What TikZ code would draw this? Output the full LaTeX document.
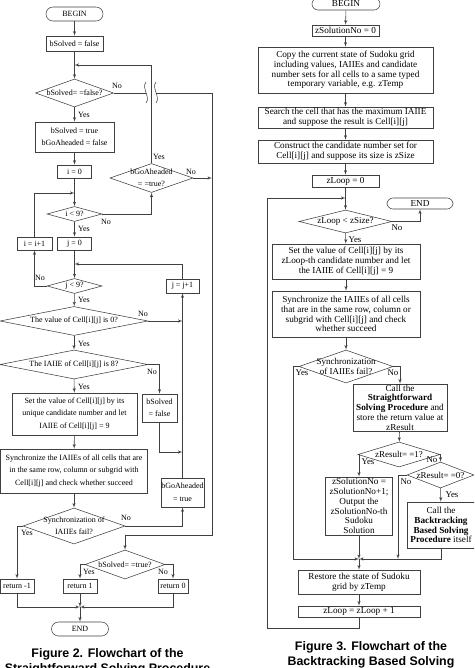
\documentclass[tikz,border=0pt]{standalone}
\usepackage{fontspec}
\setmainfont{Liberation Serif}
\newfontfamily\capfont{Liberation Sans}
\usetikzlibrary{shapes,arrows,positioning,calc,shapes.geometric}

\begin{document}
\begin{tikzpicture}[x=1pt, y=-1pt, >=latex']
    \tikzstyle{proc} = [rectangle, draw=black!75, line width=0.55pt, inner sep=0.5pt, align=center, font=\fontsize{8}{12.5}\selectfont]
    \tikzstyle{procr} = [proc, font=\fontsize{9.2}{9.8}\selectfont]
    \tikzstyle{term} = [proc, rounded corners=7pt]
    \tikzstyle{termr} = [procr, rounded corners=6pt]
    \tikzstyle{dec} = [diamond, draw=black!75, line width=0.55pt, inner sep=0pt]
    \tikzstyle{dtxt} = [inner sep=0pt, align=center, font=\fontsize{8}{12}\selectfont]
    \tikzstyle{dtxtr} = [dtxt, font=\fontsize{9}{9.8}\selectfont]
    \tikzstyle{lbl} = [inner sep=0pt, font=\fontsize{8}{9}\selectfont]
    \tikzstyle{lblr} = [inner sep=0pt, font=\fontsize{8.8}{9}\selectfont]
    \tikzstyle{line} = [draw=black!75, line width=0.55pt]
    \tikzstyle{arrow} = [line, ->]
    \tikzstyle{caption} = [inner sep=0pt, anchor=north, align=center, font=\capfont\bfseries\fontsize{12.4}{15}\selectfont]

    \useasboundingbox (0,0) rectangle (474,668);
    \clip (0,0) rectangle (474,668);

    % left chart
    \node [term, minimum width=57pt, minimum height=14pt] (lbegin) at (74.5,14) {BEGIN};
    \node [proc, minimum width=57pt, minimum height=15pt] (lsf) at (74.5,43.5) {bSolved = false};
    \node [dec, minimum width=78pt, minimum height=28pt, label={[dtxt]center:bSolved= =false?}] (lq1) at (74.5,93) {};
    \node [proc, minimum width=79pt, minimum height=30pt] (lset1) at (74.5,137) {bSolved = true\\bGoAheaded = false};
    \node [proc, minimum width=34pt, minimum height=13pt] (li0) at (74.5,171.5) {i = 0};
    \node [dec, minimum width=83pt, minimum height=29pt, label={[dtxt]center:{bGoAheaded\\= =true?}}] (lq2) at (151.5,178) {};
    \node [dec, minimum width=55pt, minimum height=15pt, label={[dtxt]center:i < 9?}] (lqi) at (74.5,214) {};
    \node [proc, minimum width=34pt, minimum height=13pt] (lj0) at (74.5,243.5) {j = 0};
    \node [proc, minimum width=35pt, minimum height=13pt] (linc) at (34.5,243.5) {i = i+1};
    \node [dec, minimum width=55pt, minimum height=15pt, label={[dtxt]center:j < 9?}] (lqj) at (74.5,286) {};
    \node [proc, minimum width=33pt, minimum height=14pt] (ljinc) at (182.5,286) {j = j+1};
    \node [dec, minimum width=148pt, minimum height=29pt, label={[dtxt]center:The value of Cell[i][j] is 0?}] (lq3) at (74,321) {};
    \node [dec, minimum width=148pt, minimum height=29pt, label={[dtxt]center:The IAIIE of Cell[i][j] is 8?}] (lq4) at (74,364.5) {};
    \node [proc, minimum width=35pt, minimum height=28pt] (lbs) at (159.5,408) {bSolved\\= false};
    \node [proc, minimum width=125pt, minimum height=42pt] (lsetv) at (74.5,414) {Set the value of Cell[i][j] by its\\unique candidate number and let\\IAIIE of Cell[i][j] = 9};
    \node [proc, minimum width=147pt, minimum height=44pt] (lsync) at (74,471) {Synchronize the IAIIEs of all cells that are\\in the same row, column or subgrid with\\Cell[i][j] and check whether succeed};
    \node [proc, minimum width=38pt, minimum height=29pt] (lgat) at (182.5,492.5) {bGoAheaded\\= true};
    \node [dec, minimum width=102pt, minimum height=36pt, label={[dtxt]center:{Synchronization of\\IAIIEs fail?}}] (lq5) at (74,526) {};
    \node [dec, minimum width=80pt, minimum height=29pt, label={[dtxt]center:bSolved= =true?}] (lq6) at (125,564.5) {};
    \node [proc, minimum width=34pt, minimum height=14pt] (lrm1) at (17,586) {return -1};
    \node [proc, minimum width=34pt, minimum height=14pt] (lr1) at (80,586) {return 1};
    \node [proc, minimum width=30pt, minimum height=14pt] (lr0) at (173,586) {return 0};
    \node [term, minimum width=57pt, minimum height=14pt] (lend) at (80,629) {END};

    \coordinate (lm1) at (74.5,65);
    \coordinate (lm2) at (74.5,193);
    \coordinate (lm3) at (74.5,264);
    \coordinate (lm4) at (182.5,452);
    \coordinate (lm5) at (80,607);
    \coordinate (gapl) at (146,93);
    \coordinate (gapr) at (156,93);
    \coordinate (lc1) at (212,93);
    \coordinate (lc2) at (212,535);

    \node [lbl] (ln1) at (117,86) {No};
    \node [lbl] (ly1) at (84,115) {Yes};
    \node [lbl] (ly2) at (159,157) {Yes};
    \node [lbl] (ln2) at (191,172) {No};
    \node [lbl] (ln3) at (106,222) {No};
    \node [lbl] (ly3) at (84,229) {Yes};
    \node [lbl] (ln4) at (40,278) {No};
    \node [lbl] (ly4) at (84,300) {Yes};
    \node [lbl] (ln5) at (143,314) {No};
    \node [lbl] (ly5) at (84,344) {Yes};
    \node [lbl] (ln6) at (152,372) {No};
    \node [lbl] (ly6) at (84,387) {Yes};
    \node [lbl] (ln7) at (126,518) {No};
    \node [lbl] (ly7) at (27,533) {Yes};
    \node [lbl] (ly8) at (89,572) {Yes};
    \node [lbl] (ln8) at (163,572) {No};

    \draw [arrow] (lbegin) -- (lsf);
    \draw [line] (lsf) -- (lm1);
    \draw [arrow] (lm1) -- (lq1);
    \draw [arrow] (lq1) -- (lset1);
    \draw [arrow] (lset1) -- (li0);
    \draw [line] (li0) -- (lm2);
    \draw [arrow] (lm2) -- (lqi);
    \draw [arrow] (lqi) -- (lj0);
    \draw [line] (lj0) -- (lm3);
    \draw [arrow] (lm3) -- (lqj);
    \draw [arrow] (lqj) -- (lq3);
    \draw [arrow] (lq3) -- (lq4);
    \draw [arrow] (lq4) -- (lsetv);
    \draw [arrow] (lsetv) -- (lsync);
    \draw [arrow] (lsync) -- (lq5);
    \draw [arrow] (lq2.north) |- (lm1);
    \draw [arrow] (lqi.east) -| (lq2.south);
    \draw [arrow] (lqj.west) -| (linc.south);
    \draw [arrow] (linc.north) |- (lm2);
    \draw [arrow] (ljinc.north) |- (lm3);
    \draw [arrow] (lq3.east) -- (lq3.east -| ljinc.south);
    \draw [arrow] (lq4.east) -| (lbs.north);
    \draw [arrow] (lbs.south) |- (lm4);
    \draw [arrow] (lgat.north) -- (ljinc.south);
    \draw [arrow] (lq5.east) -| (lgat.south);
    \draw [arrow] (lq5.west) -| (lrm1.north);
    \draw [line] (lq1.east) -- (gapl);
    \draw [arrow] (gapr) -- (lc1) -- (lc2) -| (lq6.north);
    \draw [arrow] (lq2.east) -- (lq2.east -| lc1);
    \draw [line] (146,82) .. controls (141,88) and (151,97) .. (146,103);
    \draw [line] (156,82) .. controls (151,88) and (161,97) .. (156,103);
    \draw [arrow] (lq6.west) -| (lr1.north);
    \draw [arrow] (lq6.east) -| (lr0.north);
    \draw [arrow] (lrm1.south) |- (lm5);
    \draw [arrow] (lr0.south) |- (lm5);
    \draw [arrow] (lr1.south) -- (lm5);
    \draw [arrow] (lm5) -- (lend);

    % right chart
    \node [termr, minimum width=68pt, minimum height=12pt] (rbegin) at (346,4) {BEGIN};
    \node [procr, minimum width=67pt, minimum height=11pt] (rzs) at (345.5,30.5) {zSolutionNo = 0};
    \node [procr, minimum width=175pt, minimum height=46pt] (rcopy) at (345.5,70) {Copy the current state of Sudoku grid\\including values, IAIIEs and candidate\\number sets for all cells to a same typed\\temporary variable, e.g. zTemp};
    \node [procr, minimum width=175pt, minimum height=21pt] (rsearch) at (345.5,117.5) {Search the cell that has the maximum IAIIE\\and suppose the result is Cell[i][j]};
    \node [procr, minimum width=175pt, minimum height=23pt] (rcons) at (345.5,151.5) {Construct the candidate number set for\\Cell[i][j] and suppose its size is zSize};
    \node [procr, minimum width=67pt, minimum height=12pt] (rzl0) at (345.5,181) {zLoop = 0};
    \node [dec, minimum width=93pt, minimum height=23pt, label={[dtxtr]center:zLoop < zSize?}] (rq1) at (345.5,221.5) {};
    \node [termr, minimum width=66pt, minimum height=11pt] (rend) at (420,203.5) {END};
    \node [procr, minimum width=148pt, minimum height=35pt] (rsetv) at (346,261.5) {Set the value of Cell[i][j] by its\\zLoop-th candidate number and let\\the IAIIE of Cell[i][j] = 9};
    \node [procr, minimum width=148pt, minimum height=46pt] (rsync) at (346,314) {Synchronize the IAIIEs of all cells\\that are in the same row, column or\\subgrid with Cell[i][j] and check\\whether succeed};
    \node [dec, minimum width=94pt, minimum height=33pt, label={[dtxtr]center:{Synchronization\\of IAIIEs fail?}}] (rq2) at (346,366.5) {};
    \node [procr, minimum width=94pt, minimum height=47pt] (rcall) at (400,407.5) {Call the\\\textbf{Straightforward}\\\textbf{Solving Procedure} and\\store the return value at\\zResult};
    \node [dec, minimum width=82pt, minimum height=25pt, label={[dtxtr]center:zResult= =1?}] (rq3) at (399,454.5) {};
    \node [dec, minimum width=67pt, minimum height=26pt, label={[dtxtr]center:zResult= =0?}] (rq4) at (440.5,475) {};
    \node [procr, minimum width=68pt, minimum height=46pt] (rbt) at (441,525) {Call the\\\textbf{Backtracking}\\\textbf{Based Solving}\\\textbf{Procedure} itself};
    \node [procr, minimum width=67pt, minimum height=58pt] (rsol) at (359,506) {zSolutionNo =\\zSolutionNo+1;\\Output the\\zSolutionNo-th\\Sudoku\\Solution};
    \node [procr, minimum width=122pt, minimum height=24pt] (rrest) at (359,582) {Restore the state of Sudoku\\grid by zTemp};
    \node [procr, minimum width=122pt, minimum height=11pt] (rinc) at (359,611.5) {zLoop = zLoop + 1};

    \coordinate (rm1) at (345.5,198);
    \coordinate (rm2) at (359,559);
    \coordinate (rm3) at (398,559);
    \coordinate (rc1) at (293,559);
    \coordinate (rc2) at (267,628);

    \node [lblr] (rn1) at (397,228) {No};
    \node [lblr] (ry1) at (355,240) {Yes};
    \node [lblr] (ry2) at (302,373) {Yes};
    \node [lblr] (rn2) at (393,373) {No};
    \node [lblr] (ry3) at (368,462) {Yes};
    \node [lblr] (rn3) at (432,460) {No};
    \node [lblr] (rn4) at (406,482) {No};
    \node [lblr] (ry4) at (452,495) {Yes};

    \draw [arrow] (rbegin) -- (rzs);
    \draw [arrow] (rzs) -- (rcopy);
    \draw [arrow] (rcopy) -- (rsearch);
    \draw [arrow] (rsearch) -- (rcons);
    \draw [arrow] (rcons) -- (rzl0);
    \draw [line] (rzl0) -- (rm1);
    \draw [arrow] (rm1) -- (rq1);
    \draw [arrow] (rq1.east) -| (rend.south);
    \draw [arrow] (rq1) -- (rsetv);
    \draw [arrow] (rsetv) -- (rsync);
    \draw [arrow] (rsync) -- (rq2);
    \draw [arrow] (rq2.east) -| (rcall.north);
    \draw [arrow] (rq2.west) -| (rc1) -- (rm2);
    \draw [arrow] (rcall) -- (rq3);
    \draw [arrow] (rq3.west) -| (rsol.north);
    \draw [arrow] (rq3.east) -| (rq4.north);
    \draw [arrow] (rq4) -- (rbt);
    \draw [arrow] (rq4.west) -| (rm3);
    \draw [arrow] (rbt.south) |- (rm2);
    \draw [arrow] (rsol) -- (rm2);
    \draw [arrow] (rm2) -- (rrest);
    \draw [arrow] (rrest) -- (rinc);
    \draw [arrow] (rinc.south) |- (rc2) |- (rm1);

    % captions
    \node [caption] (lcap) at (107.5,648) {Figure 2. Flowchart of the\\Straightforward Solving Procedure};
    \node [caption] (rcap) at (371,641) {Figure 3. Flowchart of the\\Backtracking Based Solving};
\end{tikzpicture}
\end{document}
